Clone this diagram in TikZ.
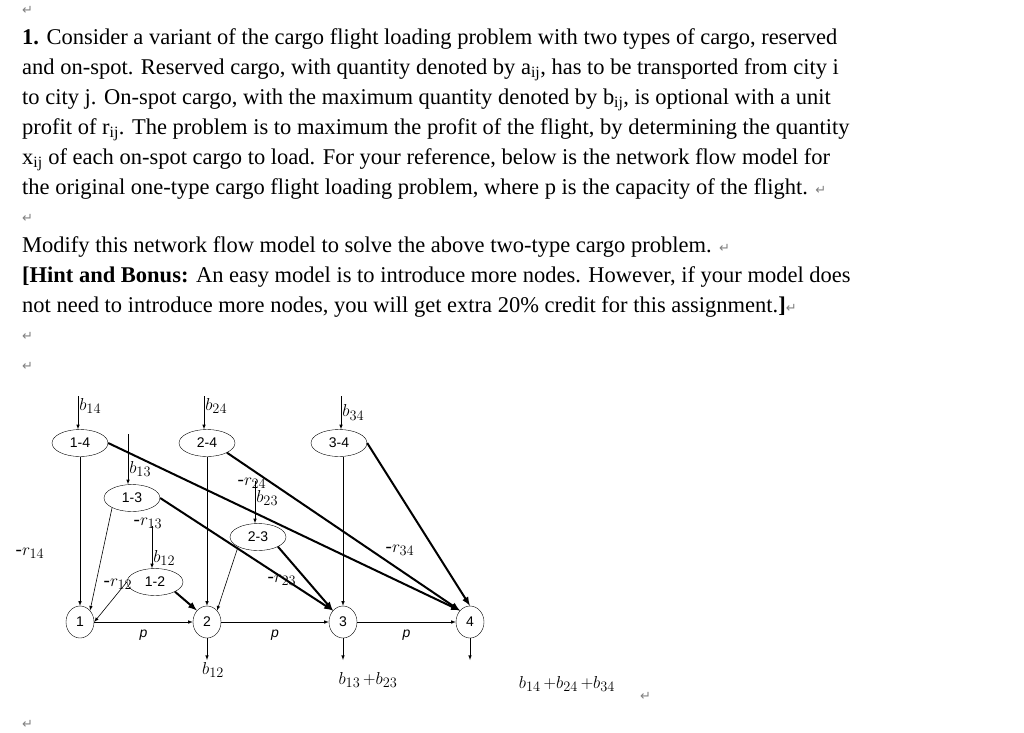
\documentclass[tikz,border=0pt]{standalone}
\usepackage{fontspec}
\setmainfont{Liberation Serif}
\newfontfamily\arial{Liberation Sans}
\newfontfamily\dejavu{DejaVu Sans}
\usetikzlibrary{shapes.geometric}

\newcommand{\ret}{{\dejavu\color{gray}\fontsize{13}{13}\selectfont ↵}}

\tikzset{
	txt/.style={anchor=base west, inner sep=0, font=\fontsize{22.5}{22.5}\selectfont},
	pair/.style={ellipse, draw, minimum width=56, minimum height=27, inner sep=0, font=\arial\fontsize{14}{14}\selectfont},
	city/.style={ellipse, draw, minimum width=28, minimum height=32, inner sep=0, font=\arial\fontsize{14}{14}\selectfont},
	lab/.style={inner sep=1, font=\fontsize{19}{19}\selectfont},
	lite/.style={-latex, line width=0.6pt},
	heavy/.style={-latex, line width=2pt}
}

\begin{document}
\begin{tikzpicture}[x=1pt, y=-1pt]
	\useasboundingbox (0,0) rectangle (1024,732);
	\fill[white] (0,0) rectangle (1024,732);

	% header text
	\node[anchor=base west, inner sep=0] at (22,14) {\ret};
	\node[txt] at (22,44) {\textbf{1.} Consider a variant of the cargo flight loading problem with two types of cargo, reserved};
	\node[txt] at (22,74) {and on-spot. Reserved cargo, with quantity denoted by a\textsubscript{ij}, has to be transported from city i};
	\node[txt] at (22,104) {to city j. On-spot cargo, with the maximum quantity denoted by b\textsubscript{ij}, is optional with a unit};
	\node[txt] at (22,134) {profit of r\textsubscript{ij}. The problem is to maximum the profit of the flight, by determining the quantity};
	\node[txt] at (22,164) {x\textsubscript{ij} of each on-spot cargo to load. For your reference, below is the network flow model for};
	\node[txt] at (22,194) {the original one-type cargo flight loading problem, where p is the capacity of the flight. \ret};
	\node[anchor=base west, inner sep=0] at (22,222) {\ret};
	\node[txt] at (22,252) {Modify this network flow model to solve the above two-type cargo problem. \ret};
	\node[txt] at (22,282) {\textbf{[Hint and Bonus:} An easy model is to introduce more nodes. However, if your model does};
	\node[txt] at (22,312) {not need to introduce more nodes, you will get extra 20\% credit for this assignment.\textbf{]}\ret};
	\node[anchor=base west, inner sep=0] at (22,340) {\ret};
	\node[anchor=base west, inner sep=0] at (22,370) {\ret};
	\node[anchor=base west, inner sep=0] at (22,728) {\ret};
	\node[anchor=base west, inner sep=0] at (640,700) {\ret};

	% city nodes
	\node[city] (c1) at (80,622) {1};
	\node[city] (c2) at (207,622) {2};
	\node[city] (c3) at (343,622) {3};
	\node[city] (c4) at (470,622) {4};

	% pair nodes
	\node[pair] (p14) at (80,443) {1-4};
	\node[pair] (p24) at (207,443) {2-4};
	\node[pair] (p34) at (339,443) {3-4};
	\node[pair] (p13) at (132,498) {1-3};
	\node[pair] (p23) at (258,537) {2-3};
	\node[pair] (p12) at (155,582) {1-2};

	% supplies
	\coordinate (s14) at (78,396);
	\coordinate (s24) at (204,396);
	\coordinate (s34) at (341,396);
	\coordinate (s13) at (128,434);
	\coordinate (s23) at (255,481);
	\coordinate (s12) at (152,526);
	\draw[lite] (s14) -- (p14.north -| s14) node[lab, pos=0.3, right] {$b_{14}$};
	\draw[lite] (s24) -- (p24.north -| s24) node[lab, pos=0.3, right] {$b_{24}$};
	\draw[lite] (s34) -- (p34.north -| s34) node[lab, pos=0.5, right] {$b_{34}$};
	\draw[lite] (s13) -- (p13.north -| s13) node[lab, pos=0.7, right] {$b_{13}$};
	\draw[lite] (s23) -- (p23.north -| s23) node[lab, pos=0.4, right] {$b_{23}$};
	\draw[lite] (s12) -- (p12.north -| s12) node[lab, pos=0.75, right] {$b_{12}$};

	% lite arcs to origin cities
	\draw[lite] (p14.south) -- (c1.north);
	\draw[lite] (p13.south west) -- (c1.north east);
	\draw[lite] (p12.west) -- (c1.east);
	\draw[lite] (p24.south -| c2.north) -- (c2.north);
	\draw[lite] (p23.south west) -- (c2.north east);
	\draw[lite] (p34.south -| c3.north) -- (c3.north);
	\node[lab] at (30,553) {-$r_{14}$};
	\node[lab] at (148,523) {-$r_{13}$};
	\node[lab] at (118,584) {-$r_{12}$};
	\node[lab] at (252,483) {-$r_{24}$};
	\node[lab] at (282,580) {-$r_{23}$};
	\node[lab] at (400,550) {-$r_{34}$};

	% heavy arcs to destination cities
	\draw[heavy] (p14.east) -- (c4.north west);
	\draw[heavy] (p24.south east) -- (c4.north west);
	\draw[heavy] (p34.east) -- (c4.north);
	\draw[heavy] (p13.east) -- (c3.north west);
	\draw[heavy] (p23.south east) -- (c3.north west);
	\draw[heavy] (p12.south east) -- (c2.north west);

	% flight legs
	\draw[lite] (c1) -- (c2) node[midway, below=4, font=\arial\itshape\fontsize{14}{14}\selectfont] {p};
	\draw[lite] (c2) -- (c3) node[midway, below=4, font=\arial\itshape\fontsize{14}{14}\selectfont] {p};
	\draw[lite] (c3) -- (c4) node[midway, below=4, font=\arial\itshape\fontsize{14}{14}\selectfont] {p};

	% demands
	\coordinate (d2) at (207,660);
	\coordinate (d3) at (343,660);
	\coordinate (d4) at (470,660);
	\draw[lite] (c2.south) -- (d2);
	\draw[lite] (c3.south) -- (d3);
	\draw[lite] (c4.south) -- (d4);
	\node[lab] at (213,670) {$b_{12}$};
	\node[lab] at (368,680) {$b_{13}\,{+}b_{23}$};
	\node[lab] at (567,684) {$b_{14}\,{+}b_{24}\,{+}b_{34}$};
\end{tikzpicture}
\end{document}
